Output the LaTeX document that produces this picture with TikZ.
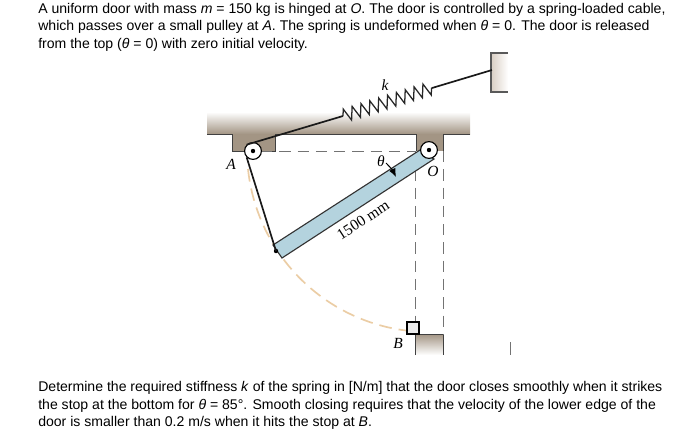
\documentclass[tikz,border=0pt]{standalone}
\usepackage{fontspec}
\setmainfont{Liberation Sans}
\newfontfamily\figfont{Liberation Serif}
\usetikzlibrary{decorations.pathmorphing,arrows.meta}
\definecolor{wallbrown}{HTML}{A39584}
\definecolor{walllight}{HTML}{D9CEC3}
\definecolor{doorblue}{HTML}{B4D3DE}
\definecolor{arcorange}{HTML}{EBCDA5}
\tikzset{
  para/.style={anchor=base west,inner sep=0pt,font=\fontsize{10pt}{12pt}\selectfont},
  figlabel/.style={inner sep=0pt,font=\figfont\itshape\fontsize{11pt}{13pt}\selectfont},
  hidden/.style={draw=black!55,dash pattern=on 8pt off 5pt,line width=0.7pt},
  cable/.style={draw=black!90,line width=1.2pt},
  pulley/.style={shape=circle,draw=black,fill=white,line width=0.8pt,minimum size=0.42cm,inner sep=0pt}
}
\begin{document}
\begin{tikzpicture}[x=0.025cm,y=-0.025cm]
   \useasboundingbox (0,0) rectangle (700,437);

   \node[para] (line1) at (38,13) {A uniform door with mass \textit{m} = 150 kg is hinged at \textit{O}. The door is controlled by a spring-loaded cable,};
   \node[para] (line2) at (38,30) {which passes over a small pulley at \textit{A}. The spring is undeformed when \textit{θ} = 0. The door is released};
   \node[para] (line3) at (38,48) {from the top (\textit{θ} = 0) with zero initial velocity.};
   \node[para] (line4) at (38,391) {Determine the required stiffness \textit{k} of the spring in [N/m] that the door closes smoothly when it strikes};
   \node[para] (line5) at (38,409) {the stop at the bottom for \textit{θ} = 85°. Smooth closing requires that the velocity of the lower edge of the};
   \node[para] (line6) at (38,426) {door is smaller than 0.2 m/s when it hits the stop at \textit{B}.};

   % ceiling and supports
   \shade[top color=white,bottom color=wallbrown] (207,112) rectangle (470,134);
   \fill[wallbrown] (232,134) rectangle (275,151);
   \fill[wallbrown] (416,134) rectangle (443,151);
   \draw[black!75,line width=0.7pt] (207,134) -- (232,134) -- (232,151) -- (275,151) -- (275,134) -- (416,134) -- (416,151);
   \draw[black!75,line width=0.7pt] (443,151) -- (443,134) -- (470,134);

   % wall and stop
   \shade[left color=walllight,right color=white] (491,53) rectangle (508,92);
   \draw[black!65,line width=0.8pt] (508,53) -- (491,53) -- (491,92) -- (508,92);
   \shade[top color=wallbrown,bottom color=white] (415,334) rectangle (443,355);
   \draw[black!75,line width=0.7pt] (415,355) -- (415,334) -- (443,334) -- (443,355);

   % hidden lines and path of the edge
   \draw[hidden] (261,151) -- (416,151);
   \draw[hidden] (415,151) -- (415,322);
   \draw[hidden] (443,151) -- (443,334);
   \draw[arcorange,line width=1.2pt,dash pattern=on 9pt off 5pt] plot[domain=174:97,samples=40] ({429+182*cos(\x)},{150+182*sin(\x)});

   % door
   \coordinate (doortl) at (420,150);
   \coordinate (doortr) at (434,159);
   \coordinate (doorbr) at (282,258);
   \coordinate (doorbl) at (273,245);
   \draw[fill=doorblue,draw=black!80,line width=0.8pt] (doortl) -- (doortr) -- (doorbr) -- (doorbl) -- cycle;

   \node[pulley] (O) at (429,150) {};
   \node[pulley] (A) at (253,151) {};
   \fill (O.center) circle (2.2);
   \fill (A.center) circle (2.2);

   % cable and spring
   \coordinate (edge) at (276,251);
   \coordinate (springa) at (343,116);
   \coordinate (springb) at (432,88);
   \coordinate (wallpt) at (492,70);
   \fill (edge) circle (2.2);
   \path[cable] (A.south west) -- (edge);
   \path[cable] (A.north west) -- (springa);
   \path[cable] (springb) -- (wallpt);
   \draw[black!85,line width=0.9pt,decorate,decoration={zigzag,segment length=6.6,amplitude=4.6}] (springa) -- (springb);

   % angle arrow
   \coordinate (thetaa) at (386,163);
   \coordinate (thetab) at (396,177);
   \draw[-{Latex[length=6pt,width=5pt]},line width=0.7pt] (thetaa) to[bend left=10] (thetab);

   \node[figlabel] (lblk) at (385,85) {k};
   \node[figlabel] (lblA) at (231,164) {A};
   \node[figlabel] (lblO) at (433,171) {O};
   \node[figlabel] (lblth) at (381,161) {θ};
   \node[figlabel] (lblB) at (398,343) {B};
   \node[inner sep=0pt,rotate=33,font=\figfont\fontsize{11pt}{13pt}\selectfont] (lbllen) at (363,220) {1500 mm};

   % stop block
   \node[draw=black,fill=black!8,line width=0.8pt,minimum size=0.3cm,inner sep=0pt] (stopb) at (413,328) {};
   \draw[black!55,line width=0.7pt] (510.5,342) -- (510.5,355);
\end{tikzpicture}
\end{document}
